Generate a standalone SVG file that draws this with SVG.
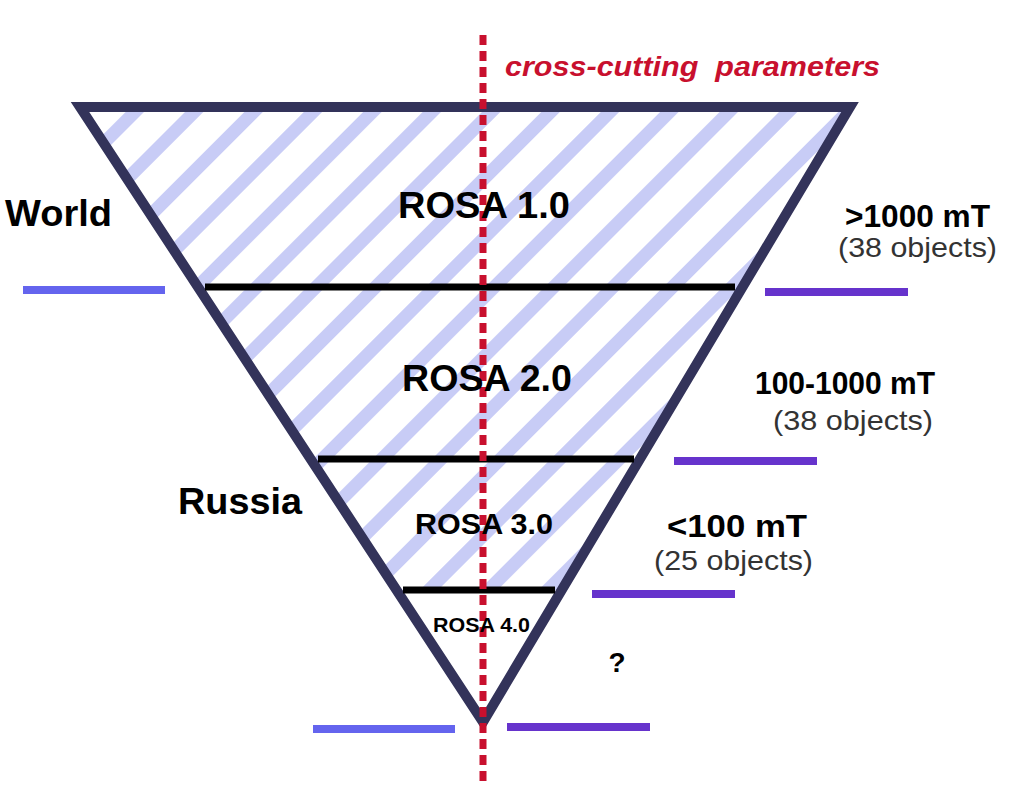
<svg xmlns="http://www.w3.org/2000/svg" width="1009" height="787" viewBox="0 0 1009 787">
<style>
.b{font-family:"Liberation Sans",Arial,sans-serif;font-weight:bold;fill:#000}
.r{font-family:"Liberation Sans",Arial,sans-serif;fill:#333}
.lb{stroke:#6464ee;stroke-width:8}
.pb{stroke:#6633cc;stroke-width:8}
.hl{stroke:#000;stroke-width:7}
</style>
<defs>
<pattern id="h" patternUnits="userSpaceOnUse" width="42" height="42" patternTransform="rotate(45)">
<rect x="0" y="0" width="13" height="42" fill="#c8ccf6"/>
</pattern>
<clipPath id="c"><rect x="0" y="0" width="1009" height="590"/></clipPath>
</defs>
<rect width="1009" height="787" fill="#fff"/>
<g id="triangle">
<polygon points="80,107 850,107 483,722" fill="url(#h)" clip-path="url(#c)"/>
<polygon points="80,107 850,107 483,722" fill="none" stroke="#33335a" stroke-width="10" stroke-linejoin="miter"/>
</g>
<g id="connectors">
<line class="hl" x1="205" y1="287" x2="735" y2="287"/>
<line class="hl" x1="318" y1="459" x2="634" y2="459"/>
<line class="hl" x1="403" y1="590" x2="555" y2="590"/>
<line x1="483" y1="35" x2="483" y2="787" stroke="#c8102e" stroke-width="7" stroke-dasharray="10,6"/>
<line class="lb" x1="23" y1="290" x2="165" y2="290"/>
<line class="lb" x1="313" y1="729" x2="455" y2="729"/>
<line class="pb" x1="765" y1="292" x2="908" y2="292"/>
<line class="pb" x1="674" y1="461" x2="817" y2="461"/>
<line class="pb" x1="592" y1="594" x2="735" y2="594"/>
<line class="pb" x1="507" y1="727" x2="650" y2="727"/>
</g>
<g id="labels">
<text x="505" y="76" font-family="Liberation Sans,Arial,sans-serif" font-weight="bold" font-style="italic" font-size="27" fill="#c8102e" xml:space="preserve" textLength="375" lengthAdjust="spacingAndGlyphs">cross-cutting  parameters</text>
<text class="b" x="5" y="226" font-size="36" textLength="107" lengthAdjust="spacingAndGlyphs">World</text>
<text class="b" x="178" y="514" font-size="36" textLength="124" lengthAdjust="spacingAndGlyphs">Russia</text>
<text class="b" x="398" y="218" font-size="36" textLength="172" lengthAdjust="spacingAndGlyphs">ROSA 1.0</text>
<text class="b" x="402" y="391" font-size="36" textLength="170" lengthAdjust="spacingAndGlyphs">ROSA 2.0</text>
<text class="b" x="415" y="534" font-size="29" textLength="138" lengthAdjust="spacingAndGlyphs">ROSA 3.0</text>
<text class="b" x="433" y="632" font-size="20" textLength="97" lengthAdjust="spacingAndGlyphs">ROSA 4.0</text>
<text class="b" x="617" y="672" font-size="28" text-anchor="middle">?</text>
<text class="b" x="845" y="227" font-size="31" textLength="145" lengthAdjust="spacingAndGlyphs">&gt;1000 mT</text>
<text class="r" x="838" y="257" font-size="28" textLength="159" lengthAdjust="spacingAndGlyphs">(38 objects)</text>
<text class="b" x="755" y="394" font-size="31" textLength="180" lengthAdjust="spacingAndGlyphs">100-1000 mT</text>
<text class="r" x="773" y="430" font-size="28" textLength="160" lengthAdjust="spacingAndGlyphs">(38 objects)</text>
<text class="b" x="667" y="537" font-size="31" textLength="140" lengthAdjust="spacingAndGlyphs">&lt;100 mT</text>
<text class="r" x="654" y="570" font-size="28" textLength="159" lengthAdjust="spacingAndGlyphs">(25 objects)</text>
</g>
</svg>
